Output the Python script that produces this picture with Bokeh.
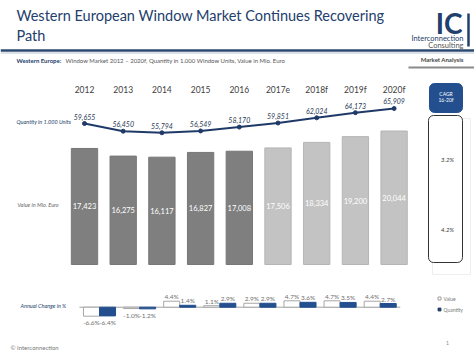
from bokeh.plotting import figure
from bokeh.models import Range1d
from bokeh.core.properties import value
from bokeh.embed import file_html
from bokeh.resources import INLINE

# ---------------- data ----------------
years = ["2012", "2013", "2014", "2015", "2016", "2017e", "2018f", "2019f", "2020f"]
market_value = [17423, 16275, 16117, 16827, 17008, 17506, 18334, 19200, 20044]
quantity = [59655, 56450, 55794, 56549, 58170, 59851, 62024, 64173, 65909]
chg_years = ["2013", "2014", "2015", "2016", "2017e", "2018f", "2019f", "2020f"]
chg_value = [-6.6, -1.0, 4.4, 1.1, 2.9, 4.7, 4.7, 4.4]
chg_quantity = [-6.4, -1.2, 1.4, 2.9, 2.9, 3.6, 3.5, 2.7]
cagr_value = "3.2%"
cagr_quantity = "4.2%"

W, H = 474, 352
NAVY = "#22406b"
BLUE = "#234f8f"
FONT = value("Lato")

p = figure(width=W, height=H, output_backend="svg", toolbar_location=None,
           x_range=Range1d(0, W), y_range=Range1d(H, 0), min_border=0,
           x_axis_location=None, y_axis_location=None)
p.xgrid.visible = False
p.ygrid.visible = False
p.outline_line_color = None
p.background_fill_color = "white"
p.border_fill_color = "white"


def px_range(px0, v0, ppu):
    # vertical range such that value v0 sits at canvas pixel row px0
    return Range1d(v0 - (H - px0) / ppu, v0 + px0 / ppu)


def px_xrange(px0, step):
    return Range1d(-px0 / step, (W - px0) / step)


p.extra_x_ranges = {"yr": px_xrange(84, 38.7), "ann": px_xrange(58.9, 40.1)}
p.extra_y_ranges = {"val": px_range(264, 0, 0.00666),
                    "qty": px_range(123, 59655, 0.0024),
                    "chg": px_range(306.7, 0, 1.36)}

idx = list(range(len(years)))
hist = [not (y.endswith("e") or y.endswith("f")) for y in years]
bar_fill = ["#7f7f7f" if h else "#c3c3c3" for h in hist]
bar_line = ["#777777" if h else "#b5b5b5" for h in hist]

# ---------------- header ----------------
p.text(x=[16], y=[15], text=["Western European Window Market Continues Recovering"],
       text_font=FONT, text_font_size="14.5px", text_color=NAVY, text_baseline="middle")
p.text(x=[16], y=[35], text=["Path"],
       text_font=FONT, text_font_size="14.5px", text_color=NAVY, text_baseline="middle")
p.segment(x0=[0], y0=[50], x1=[W], y1=[50], line_color="#2c4a70", line_width=2.5)
p.segment(x0=[0], y0=[52.5], x1=[W], y1=[52.5], line_color="#b8c4d2", line_width=1)
p.text(x=[16], y=[60], text=["Western Europe:"], text_font=FONT, text_font_size="6px",
       text_font_style="bold", text_color=NAVY, text_baseline="middle")
p.text(x=[65], y=[60], text=["Window Market 2012 \u2013 2020f, Quantity in 1.000 Window Units, Value in Mio. Euro"],
       text_font=FONT, text_font_size="6px", text_color="#555555", text_baseline="middle")

# logo
p.text(x=[462], y=[22.5], text=["IC"], text_font=FONT, text_font_size="28px",
       text_font_style="bold", text_color=NAVY, text_align="right", text_baseline="middle")
p.text(x=[463], y=[37.5], text=["Interconnection"], text_font=FONT, text_font_size="7.5px",
       text_color=NAVY, text_align="right", text_baseline="middle")
p.text(x=[463], y=[44.5], text=["Consulting"], text_font=FONT, text_font_size="7.5px",
       text_color="#555555", text_align="right", text_baseline="middle")
p.segment(x0=[468], y0=[13], x1=[468], y1=[46], line_color=NAVY, line_width=2.5)
p.text(x=[463], y=[59], text=["Market Analysis"], text_font=FONT, text_font_size="6px",
       text_font_style="bold", text_color="#444444", text_align="right", text_baseline="middle")
p.segment(x0=[408], y0=[67], x1=[W], y1=[67], line_color="#8a8a8a", line_width=2)

# ---------------- year labels ----------------
p.text(x=idx, y=[89] * len(idx), text=years, x_range_name="yr",
       text_font=FONT, text_font_size="8.5px", text_color="#404040",
       text_align="center", text_baseline="middle")

# ---------------- quantity line ----------------
p.text(x=[16], y=[121], text=["Quantity in 1.000 Units"], text_font=FONT,
       text_font_size="5.5px", text_font_style="italic", text_color=NAVY, text_baseline="middle")
p.line(x=idx, y=quantity, x_range_name="yr", y_range_name="qty", line_color="#1f3a68", line_width=2)
p.scatter(x=idx, y=quantity, x_range_name="yr", y_range_name="qty", size=4,
          fill_color="#1f3a68", line_color="#1f3a68")
p.text(x=idx, y=quantity, text=[f"{q:,}" for q in quantity], x_range_name="yr", y_range_name="qty",
       text_font=FONT, text_font_size="7px", text_font_style="italic", text_color="#2a3a55",
       text_align="center", text_baseline="bottom", y_offset=-4)

# ---------------- value bars ----------------
p.text(x=[17], y=[204], text=["Value in Mio. Euro"], text_font=FONT,
       text_font_size="5.5px", text_font_style="italic", text_color="#666666", text_baseline="middle")
p.vbar(x=idx, top=market_value, bottom=0, width=0.68, x_range_name="yr", y_range_name="val",
       fill_color=bar_fill, line_color=bar_line, line_width=1)
p.text(x=idx, y=[v / 2 for v in market_value], text=[f"{v:,}" for v in market_value],
       x_range_name="yr", y_range_name="val", text_font=FONT, text_font_size="7.5px",
       text_color="white", text_align="center", text_baseline="middle")

# ---------------- annual change ----------------
cidx = [years.index(y) for y in chg_years]
p.text(x=[20], y=[305.5], text=["Annual Change in %"], text_font=FONT,
       text_font_size="5.5px", text_font_style="italic", text_color=NAVY, text_baseline="middle")
p.segment(x0=[min(cidx) - 0.5], y0=[0], x1=[max(cidx) + 0.5], y1=[0], x_range_name="ann",
          y_range_name="chg", line_color="#a0a0a0", line_width=1)
xv = [i - 0.2 for i in cidx]
xq = [i + 0.2 for i in cidx]
p.vbar(x=xv, top=chg_value, bottom=0, width=0.4, x_range_name="ann", y_range_name="chg",
       fill_color="white", line_color="#a6a6a6", line_width=1)
p.vbar(x=xq, top=chg_quantity, bottom=0, width=0.4, x_range_name="ann", y_range_name="chg",
       fill_color=BLUE, line_color=BLUE, line_width=1)
for xs, vals in ((xv, chg_value), (xq, chg_quantity)):
    pos = [(x, v) for x, v in zip(xs, vals) if v >= 0]
    neg = [(x, v) for x, v in zip(xs, vals) if v < 0]
    p.text(x=[a for a, _ in pos], y=[b for _, b in pos], text=[f"{b:.1f}%" for _, b in pos],
           x_range_name="ann", y_range_name="chg", text_font=FONT, text_font_size="6.5px",
           text_color="#707070", text_align="center", text_baseline="bottom", y_offset=-1)
    p.text(x=[a for a, _ in neg], y=[b for _, b in neg], text=[f"{b:.1f}%" for _, b in neg],
           x_range_name="ann", y_range_name="chg", text_font=FONT, text_font_size="6.5px",
           text_color="#707070", text_align="center", text_baseline="top", y_offset=3)

# ---------------- CAGR panel ----------------
p.quad(left=[432], right=[470], top=[118], bottom=[274], fill_color=None,
       line_color="#eeeeee", line_width=1)
p.quad(left=[429], right=[462], top=[83], bottom=[112], fill_color=BLUE,
       line_color=BLUE, border_radius=5)
p.text(x=[445.5, 445.5], y=[93.5, 99], text=["CAGR", "16-20f"], text_font=FONT,
       text_font_size="5px", text_color="white", text_align="center", text_baseline="middle")
p.quad(left=[428], right=[462], top=[115], bottom=[262], fill_color="white",
       line_color="#333333", line_width=1, border_radius=5)
p.text(x=[447, 447], y=[159, 229], text=[cagr_value, cagr_quantity], text_font=FONT,
       text_font_size="6px", text_font_style="italic", text_color="#333333",
       text_align="center", text_baseline="middle")

# ---------------- legend & footer ----------------
p.quad(left=[437.5], right=[440.5], top=[296.5], bottom=[299.5], fill_color="white",
       line_color="#888888", line_width=0.8)
p.quad(left=[437.5], right=[440.5], top=[307.5], bottom=[310.5], fill_color=NAVY,
       line_color=NAVY, line_width=0.8)
p.text(x=[443, 443], y=[298, 309], text=["Value", "Quantity"], text_font=FONT,
       text_font_size="5px", text_color="#777777", text_baseline="middle")
p.text(x=[10], y=[347], text=["\u00a9 Interconnection"], text_font=FONT,
       text_font_size="6px", text_color="#777777", text_baseline="middle")
p.text(x=[447], y=[342], text=["1"], text_font=FONT,
       text_font_size="5px", text_color="#888888", text_align="center", text_baseline="middle")

open("out.html", "w").write(file_html(p, INLINE))
